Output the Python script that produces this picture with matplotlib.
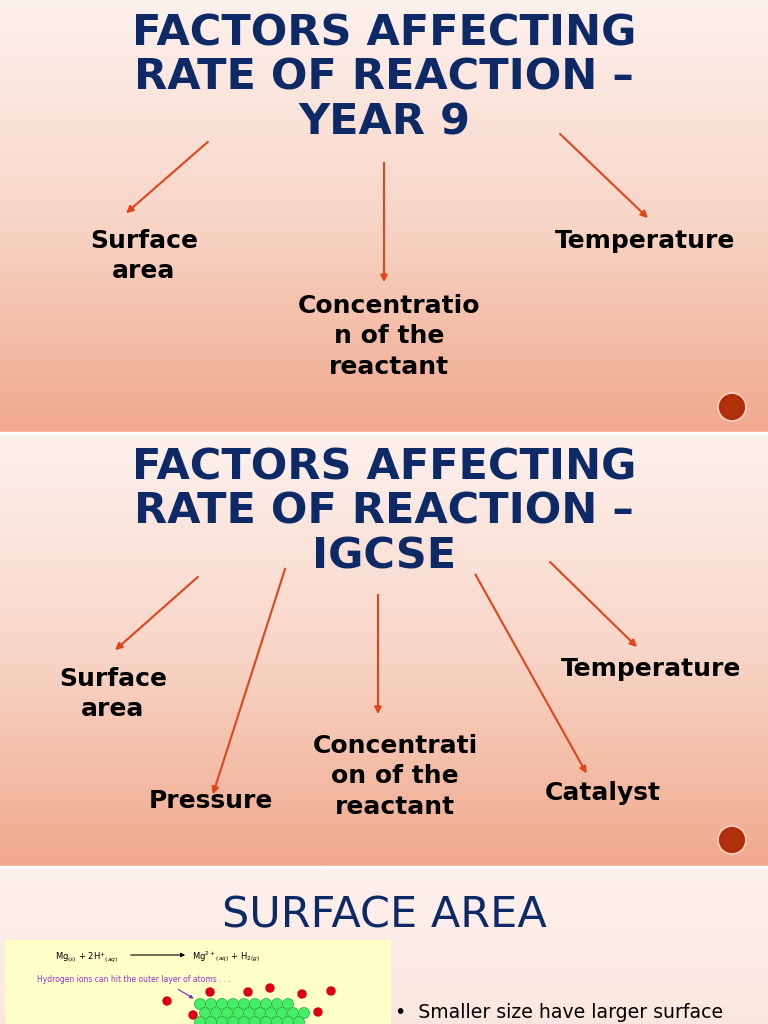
import matplotlib
matplotlib.use("Agg")
import matplotlib.pyplot as plt
import numpy as np
from matplotlib.colors import LinearSegmentedColormap
from matplotlib.patches import Circle, Rectangle

titles = ["FACTORS AFFECTING\nRATE OF REACTION –\nYEAR 9",
          "FACTORS AFFECTING\nRATE OF REACTION –\nIGCSE"]
labels1 = ["Surface\narea", "Concentratio\nn of the\nreactant", "Temperature"]
labels2 = ["Surface\narea", "Pressure", "Concentrati\non of the\nreactant", "Catalyst", "Temperature"]
title3 = "SURFACE AREA"
bullet = "•  Smaller size have larger surface"

fig = plt.figure(figsize=(7.68, 10.24), dpi=100)
ax = fig.add_axes([0, 0, 1, 1])
ax.set_xlim(0, 768); ax.set_ylim(1024, 0); ax.axis("off")

cmap = LinearSegmentedColormap.from_list("g", ["#fdf1ee", "#f8d6c8", "#f0a98d"])
grad = np.linspace(0, 1, 256).reshape(-1, 1)
for y0, y1 in [(0, 432), (434, 866)]:
    ax.imshow(grad, cmap=cmap, extent=[0, 768, y1, y0], aspect="auto", zorder=0)
cmap3 = LinearSegmentedColormap.from_list("g3", ["#fdf1ee", "#f8dcd0"])
ax.imshow(grad, cmap=cmap3, extent=[0, 768, 1024+160, 868], aspect="auto", zorder=0)
ax.add_patch(Rectangle((0, 432), 768, 2, color="white", zorder=1))
ax.add_patch(Rectangle((0, 866), 768, 2, color="white", zorder=1))

navy = "#0d2a66"
arrow = dict(arrowstyle="-|>", color="#e0451c", lw=1.5, mutation_scale=10)
tfont = dict(fontsize=31, fontweight="bold", color=navy, ha="center", va="top",
             family="DejaVu Sans", linespacing=1.08)
lfont = dict(fontsize=18, fontweight="bold", color="black", ha="center", va="top",
             family="DejaVu Sans", linespacing=1.33)

# slide 1
ax.text(384, 12, titles[0], **tfont)
for (x0, y0, x1, y1) in [(210, 140, 124, 215), (384, 160, 384, 285), (558, 132, 650, 220)]:
    ax.annotate("", xy=(x1, y1), xytext=(x0, y0), arrowprops=arrow)
for lab, (x, y) in zip(labels1, [(144, 229), (389, 294), (645, 229)]):
    ax.text(x, y, lab, **lfont)

# slide 2
ax.text(384, 446, titles[1], **tfont)
for (x0, y0, x1, y1) in [(200, 575, 113, 652), (286, 566, 212, 797), (378, 592, 378, 717),
                         (474, 572, 588, 776), (548, 560, 639, 649)]:
    ax.annotate("", xy=(x1, y1), xytext=(x0, y0), arrowprops=arrow)
for lab, (x, y) in zip(labels2, [(113, 667), (211, 789), (395, 734), (603, 781), (651, 657)]):
    ax.text(x, y, lab, **lfont)

for cy in [407, 840]:
    ax.add_patch(Circle((732, cy), 14, facecolor="#b8300c", edgecolor="#f6d2c2", lw=1.2, zorder=3))
    ax.add_patch(Circle((732, cy), 11.5, facecolor="#b0300c", edgecolor="#a82a08", lw=0.5, zorder=4))

# slide 3
ax.text(384, 895, title3, fontsize=31, color=navy, ha="center", va="top", family="DejaVu Sans")
ax.add_patch(Rectangle((5, 940), 386, 90, facecolor="#ffffc8", edgecolor="none", zorder=2))
ax.text(55, 957, "Mg$_{(s)}$ + 2H$^{+}$$_{(aq)}$", fontsize=6, va="center", zorder=3)
ax.annotate("", xy=(188, 955), xytext=(128, 955),
            arrowprops=dict(arrowstyle="-|>", color="black", lw=0.8, mutation_scale=6), zorder=3)
ax.text(192, 957, "Mg$^{2+}$$_{(aq)}$ + H$_{2(g)}$", fontsize=6, va="center", zorder=3)
ax.text(37, 980, "Hydrogen ions can hit the outer layer of atoms . . .", fontsize=5.5,
        color="#9933cc", va="center", zorder=3)
ax.annotate("", xy=(196, 1000), xytext=(176, 988),
            arrowprops=dict(arrowstyle="-|>", color="#7722cc", lw=0.8, mutation_scale=5), zorder=3)
for r in range(4):
    for c in range(10 - (1 if r == 0 else 0)):
        ax.add_patch(Circle((200 + c * 11 + (r % 2) * 5, 1004 + r * 9), 5.5,
                            facecolor="#44ee66", edgecolor="#22aa33", lw=0.5, zorder=3))
for (x, y) in [(210, 992), (248, 992), (270, 988), (302, 994), (331, 991), (167, 1001),
               (193, 1015), (318, 1012)]:
    ax.add_patch(Circle((x, y), 4, color="#dd0011", zorder=4))
ax.text(395, 1013, bullet, fontsize=13.6, va="center", color="black", family="DejaVu Sans")

fig.savefig("out.png", dpi=100)
